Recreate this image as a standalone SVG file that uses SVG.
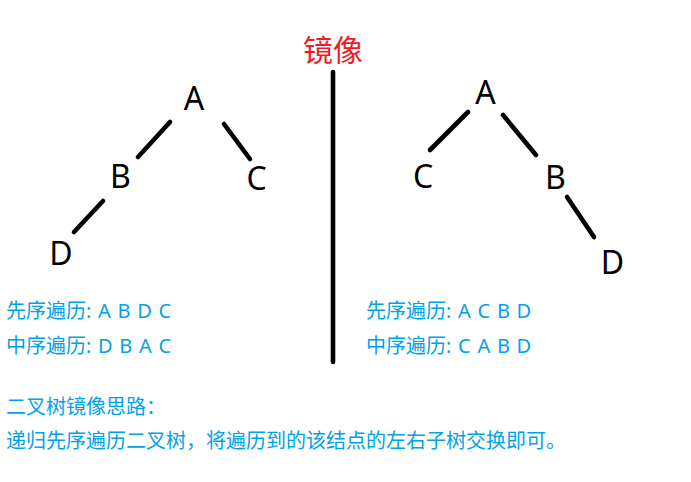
<svg xmlns="http://www.w3.org/2000/svg" width="691" height="482" viewBox="0 0 691 482">
<style>
.n{font-family:"Noto Sans","DejaVu Sans",sans-serif;font-size:32px;fill:#000;text-anchor:middle}
.t{font-family:"Noto Sans","Noto Sans CJK SC",sans-serif;font-size:20px;fill:#00A2E8}
.w{word-spacing:1.5px}
.e{stroke:#000;stroke-width:4.6;stroke-linecap:round;fill:none}
</style>
<rect width="691" height="482" fill="#fff"/>
<text x="333" y="61" style="font-family:'Noto Sans CJK SC',sans-serif;font-size:30px;fill:#ED1C24;text-anchor:middle">镜像</text>
<line x1="333" y1="72" x2="333" y2="362" stroke="#000" stroke-width="4.6" stroke-linecap="round"/>
<g id="connectors">
<line class="e" x1="170" y1="122" x2="138" y2="157"/>
<line class="e" x1="224" y1="124" x2="250" y2="159"/>
<line class="e" x1="103" y1="201" x2="74" y2="232"/>
<line class="e" x1="468" y1="112" x2="430" y2="150"/>
<line class="e" x1="503" y1="115" x2="536" y2="155"/>
<line class="e" x1="567" y1="197" x2="594" y2="237"/>
</g>
<g id="L-A"><text class="n" x="194" y="110">A</text></g>
<g id="L-B"><text class="n" x="120.5" y="188">B</text></g>
<g id="L-C"><text class="n" x="256.5" y="189.5">C</text></g>
<g id="L-D"><text class="n" x="61" y="265">D</text></g>
<g id="R-A"><text class="n" x="485.5" y="104">A</text></g>
<g id="R-C"><text class="n" x="423" y="187.5">C</text></g>
<g id="R-B"><text class="n" x="555.5" y="189">B</text></g>
<g id="R-D"><text class="n" x="612.5" y="274">D</text></g>
<g id="texts">
<text class="t w" x="6" y="318">先序遍历: A B D C</text>
<text class="t w" x="6" y="352.5">中序遍历: D B A C</text>
<text class="t w" x="366" y="318">先序遍历: A C B D</text>
<text class="t w" x="366" y="352.5">中序遍历: C A B D</text>
<text class="t" x="6" y="414">二叉树镜像思路：</text>
<text class="t" x="6" y="448">递归先序遍历二叉树，将遍历到的该结点的左右子树交换即可。</text>
</g>
</svg>
